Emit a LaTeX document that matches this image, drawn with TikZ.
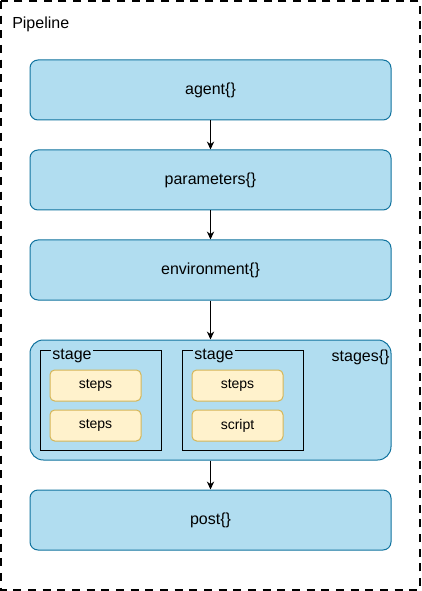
\documentclass[tikz,border=0pt]{standalone}
\usepackage{fontspec}
\setmainfont{Liberation Sans}
\usetikzlibrary{arrows.meta,positioning}
\definecolor{boxfill}{HTML}{B1DDF0}
\definecolor{boxline}{HTML}{10739E}
\definecolor{stepfill}{HTML}{FFF2CC}
\definecolor{stepline}{HTML}{D6B656}
\tikzset{
	block/.style={draw=boxline,fill=boxfill,line width=0.75pt,rounded corners=6pt,minimum width=270.75pt,minimum height=45pt,inner sep=0pt,font=\fontsize{12}{14}\selectfont},
	stagebox/.style={draw=black,line width=0.75pt,minimum width=90.75pt,minimum height=75pt,inner sep=0pt},
	stagelabel/.style={fill=boxfill,inner xsep=1pt,inner ysep=1pt,anchor=west,font=\fontsize{12}{14}\selectfont},
	stepbox/.style={draw=stepline,fill=stepfill,line width=0.75pt,rounded corners=3.5pt,minimum width=68.25pt,minimum height=23.25pt,inner sep=0pt,font=\fontsize{10.5}{12}\selectfont},
	flow/.style={-{Stealth[length=6pt,width=5.5pt]},line width=0.75pt},
}
\begin{document}
\begin{tikzpicture}[x=0.75pt,y=-0.75pt]
\useasboundingbox (0,0) rectangle (421,591);
\draw[line width=1.2pt,dash pattern=on 6pt off 5pt] (1,1) rectangle (420,590);
\node[anchor=west,inner sep=0pt,font=\fontsize{12}{14}\selectfont] (title) at (12,24) {Pipeline};
\node[block] (agent) at (210.5,90) {agent\{\}};
\node[block] (parameters) at (210.5,180) {parameters\{\}};
\node[block] (environment) at (210.5,270) {environment\{\}};
\node[block,minimum height=90pt,rounded corners=10pt] (stages) at (210.5,400) {};
\node[block,anchor=east,minimum width=0pt,minimum height=0pt,draw=none] (stagestext) at (390,357) {stages\{\}};
\node[block] (post) at (210.5,520) {post\{\}};
\foreach \name/\cx in {one/100.5,two/242.5} {
	\node[stagebox] (stage\name) at (\cx,400) {};
	\node[stagelabel] (label\name) at ([xshift=8.5pt,yshift=-4.5pt]stage\name.north west) {stage};
}
\node[stepbox] (stepsa) at (95.5,385.5) {steps};
\node[stepbox] (stepsb) at (95.5,425.5) {steps};
\node[stepbox] (stepsc) at (237.5,385.5) {steps};
\node[stepbox] (script) at (237.5,425.5) {script};
\draw[flow] (agent) -- (parameters);
\draw[flow] (parameters) -- (environment);
\draw[flow] (environment) -- (stages);
\draw[flow] (stages) -- (post);
\end{tikzpicture}
\end{document}
